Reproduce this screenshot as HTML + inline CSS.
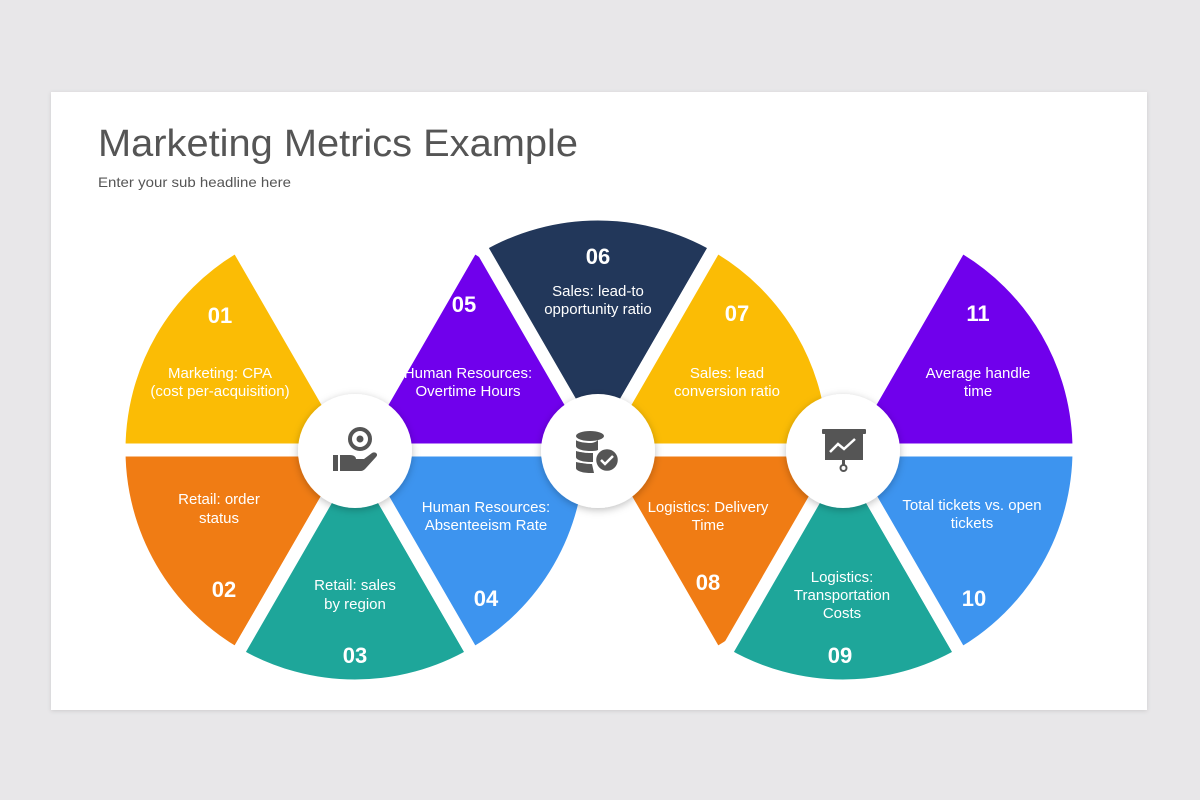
<!DOCTYPE html>
<html><head><meta charset="utf-8"><style>
html,body{margin:0;padding:0;background:#e8e7e9;}
svg{display:block;font-family:"Liberation Sans",sans-serif;}
</style></head><body>
<svg width="1200" height="800" viewBox="0 0 1200 800" xmlns="http://www.w3.org/2000/svg">
<defs>
<filter id="sh" x="-30%" y="-30%" width="160%" height="160%"><feDropShadow dx="0" dy="2" stdDeviation="4" flood-color="#000" flood-opacity="0.25"/></filter>
<filter id="cs" x="-5%" y="-5%" width="110%" height="110%"><feDropShadow dx="0" dy="1" stdDeviation="2" flood-color="#000" flood-opacity="0.12"/></filter>
</defs>
<rect x="0" y="0" width="1200" height="800" fill="#e8e7e9"/>
<rect x="51" y="92" width="1096" height="618" fill="#fff" filter="url(#cs)"/>
<text x="98" y="156" font-size="38" fill="#555" textLength="480" lengthAdjust="spacingAndGlyphs">Marketing Metrics Example</text>
<text x="98" y="187" font-size="14" fill="#555" textLength="193" lengthAdjust="spacingAndGlyphs">Enter your sub headline here</text>

<g stroke="#fff" stroke-width="13" stroke-linejoin="miter">
<!-- circle 1 -->
<path d="M355 450 L237 245.6 A236 236 0 0 0 119 450 Z" fill="#fbbc05"/>
<path d="M355 450 L119 450 A236 236 0 0 0 237 654.4 Z" fill="#f07c14"/>
<path d="M355 450 L237 654.4 A236 236 0 0 0 473 654.4 Z" fill="#1ea69a"/>
<path d="M355 450 L473 654.4 A236 236 0 0 0 591 450 Z" fill="#3d94ef"/>
<path d="M355 450 L591 450 A236 236 0 0 0 473 245.6 Z" fill="#7000ec"/>
<!-- circle 2 -->
<path d="M598 450 L716 245.6 A236 236 0 0 0 480 245.6 Z" fill="#22375a"/>
<path d="M598 450 L834 450 A236 236 0 0 0 716 245.6 Z" fill="#fbbc05"/>
<path d="M598 450 L716 654.4 A236 236 0 0 0 834 450 Z" fill="#f07c14"/>
<!-- circle 3 -->
<path d="M843 450 L1079 450 A236 236 0 0 0 961 245.6 Z" fill="#7000ec"/>
<path d="M843 450 L725 654.4 A236 236 0 0 0 961 654.4 Z" fill="#1ea69a"/>
<path d="M843 450 L961 654.4 A236 236 0 0 0 1079 450 Z" fill="#3d94ef"/>
</g>

<g fill="#fff" filter="url(#sh)">
<circle cx="355" cy="451" r="57"/>
<circle cx="598" cy="451" r="57"/>
<circle cx="843" cy="451" r="57"/>
</g>

<!-- icons -->
<g fill="#555">
 <circle cx="360" cy="439" r="10" fill="none" stroke="#555" stroke-width="4"/>
 <circle cx="360" cy="439" r="3.5"/>
 <rect x="333" y="455" width="5" height="16"/>
 <path d="M340 455 h10 c4 0 6 2 6 4 h8 l8 -6 c3 -2 7 1 4 4 l-10 11 c-2 2 -3 3 -6 3 h-20 z"/>
</g>
<g fill="#555">
 <ellipse cx="590" cy="436" rx="14" ry="5"/>
 <path d="M576 440 v6 c0 3 7 5 14 5 c3 0 6 0 8 -1 v-10 c-2 2 -5 3 -8 3 c-7 0 -14 -2 -14 -3z"/>
 <path d="M576 451 v6 c0 3 7 5 14 5 c1 0 2 0 3 0 l0 -9 c-1 0 -2 0 -3 0 c-7 0 -14 -2 -14 -2z"/>
 <path d="M576 462 v6 c0 3 7 5 14 5 c1 0 2 0 4 0 l-2 -9 c-7 0 -16 -2 -16 -2z"/>
 <circle cx="607" cy="460" r="12" stroke="#fff" stroke-width="2.5"/>
 <path d="M601 460 l4 4 l8 -8" fill="none" stroke="#fff" stroke-width="2.5"/>
</g>
<g fill="#555">
 <rect x="822" y="429" width="44" height="5" rx="1"/>
 <rect x="825" y="434" width="38" height="26"/>
 <path d="M830 452 l8 -8 l6 5 l11 -10" fill="none" stroke="#fff" stroke-width="2.5"/>
 <rect x="842" y="460" width="3" height="6"/>
 <circle cx="843.5" cy="468" r="3" fill="none" stroke="#555" stroke-width="2"/>
</g>

<g fill="#fff" text-anchor="middle">
<g font-size="22" font-weight="bold">
<text x="220" y="323">01</text>
<text x="224" y="597">02</text>
<text x="355" y="663">03</text>
<text x="486" y="606">04</text>
<text x="464" y="312">05</text>
<text x="598" y="264">06</text>
<text x="737" y="321">07</text>
<text x="708" y="590">08</text>
<text x="840" y="663">09</text>
<text x="974" y="606">10</text>
<text x="978" y="321">11</text>
</g>
<g font-size="15">
<text x="220" y="378">Marketing: CPA</text>
<text x="220" y="396">(cost per-acquisition)</text>
<text x="219" y="504">Retail: order</text>
<text x="219" y="523">status</text>
<text x="355" y="590">Retail: sales</text>
<text x="355" y="609">by region</text>
<text x="486" y="512">Human Resources:</text>
<text x="486" y="530">Absenteeism Rate</text>
<text x="468" y="378">Human Resources:</text>
<text x="468" y="396">Overtime Hours</text>
<text x="598" y="296">Sales: lead-to</text>
<text x="598" y="314">opportunity ratio</text>
<text x="727" y="378">Sales: lead</text>
<text x="727" y="396">conversion ratio</text>
<text x="708" y="512">Logistics: Delivery</text>
<text x="708" y="530">Time</text>
<text x="842" y="582">Logistics:</text>
<text x="842" y="600">Transportation</text>
<text x="842" y="618">Costs</text>
<text x="972" y="510">Total tickets vs. open</text>
<text x="972" y="528">tickets</text>
<text x="978" y="378">Average handle</text>
<text x="978" y="396">time</text>
</g>
</g>
</svg>
</body></html>
